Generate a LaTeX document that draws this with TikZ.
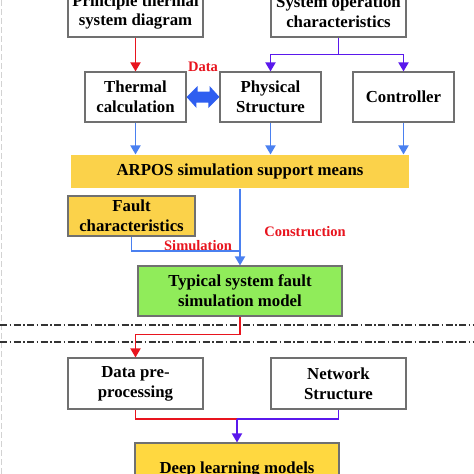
\documentclass[tikz,border=0pt]{standalone}
\usepackage{fontspec}
\setmainfont{Liberation Serif}
\usetikzlibrary{arrows.meta}
\definecolor{lred}{HTML}{E8141E}
\definecolor{lblue}{HTML}{4A80F0}
\definecolor{lpurple}{HTML}{5A18EC}
\definecolor{dblue}{HTML}{2E5EF0}
\definecolor{gold}{HTML}{FBD24A}
\definecolor{gold2}{HTML}{FFD840}
\definecolor{lgreen}{HTML}{90EC5A}
\definecolor{bgray}{HTML}{707070}
\tikzset{
  box/.style={draw=bgray, line width=1.1pt, fill=white, align=center, inner sep=0pt,
    font=\bfseries\fontsize{16.8}{19.8}\selectfont},
  lbl/.style={text=lred, font=\bfseries\fontsize{14.5}{16}\selectfont, inner sep=0pt},
  conn/.style={line width=1.8pt},
  tip/.style={-{Triangle[length=9pt,width=10pt]}},
  sep/.style={draw=black!80, line width=1.2pt, dash pattern=on 7pt off 2.5pt on 1.5pt off 2.5pt},
}
\begin{document}
\begin{tikzpicture}[x=1pt,y=-1pt]
\useasboundingbox[fill=white] (0,0) rectangle (474,474);
% faint frame edge
\draw[gray!35, line width=1.5pt, dash pattern=on 6pt off 3pt] (1.5,0) -- (1.5,474);
% nodes
\node[box, minimum width=135pt, minimum height=50pt] (principle) at (135.5,12) {Principle thermal\\system diagram};
\node[box, minimum width=135pt, minimum height=50pt] (sysop) at (338.5,12) {System operation\\characteristics};
\node[box, minimum width=101pt, minimum height=50pt] (thermal) at (135.5,97) {Thermal\\calculation};
\node[box, minimum width=101pt, minimum height=50pt] (physical) at (270.5,97) {Physical\\Structure};
\node[box, minimum width=101pt, minimum height=50pt] (controller) at (403.5,97) {Controller};
\node[box, draw=none, fill=gold, minimum width=338pt, minimum height=33pt] (arpos) at (240,171.5) {ARPOS simulation support means};
\node[box, fill=gold, minimum width=127pt, minimum height=40pt] (fault) at (131.5,216) {Fault\\characteristics};
\node[box, fill=lgreen, minimum width=204pt, minimum height=50pt] (typical) at (240,291) {Typical system fault\\simulation model};
\node[box, minimum width=135pt, minimum height=51pt] (data) at (135.5,383.5) {Data pre-\\processing};
\node[box, minimum width=135pt, minimum height=51pt] (network) at (338.5,383.5) {Network\\Structure};
\node[box, fill=gold2, minimum width=204pt, minimum height=54pt] (deep) at (237,470) {Deep learning models};
% labels
\node[lbl] (ldata) at (203,67) {Data};
\node[lbl] (lcons) at (305,232) {Construction};
\node[lbl] (lsim) at (198,246) {Simulation};
% separators
\draw[sep] (0,325) -- (474,325);
\draw[sep] (0,342) -- (474,342);
% connectors
\draw[conn, lred, tip] (principle.south) -- (thermal.north);
\draw[conn, lpurple] (sysop.south) -- ++(0,17) coordinate (sj);
\draw[conn, lpurple, tip] (sj) -| (physical.north);
\draw[conn, lpurple, tip] (sj) -| (controller.north);
\draw[conn, lblue, tip] (thermal.south) -- (thermal.south |- arpos.north);
\draw[conn, lblue, tip] (physical.south) -- (physical.south |- arpos.north);
\draw[conn, lblue, tip] (controller.south) -- (controller.south |- arpos.north);
\draw[conn, lblue, tip] (arpos.south) -- (typical.north);
\coordinate (fj) at (240,251);
\draw[conn, lblue] (fault.south) |- (fj);
\draw[conn, lred, tip] (typical.south) -- ++(0,18) -| (data.north);
\coordinate (mj) at (237,419);
\draw[conn, lred] (data.south) |- (mj);
\draw[conn, lpurple] (network.south) |- (mj);
\draw[conn, lpurple, tip] (mj) -- (deep.north);
% data double arrow
\fill[dblue] (thermal.east) -- ++(11,-11) -- ++(0,5.5) -- ++(12,0) -- ++(0,-5.5)
  -- (physical.west) -- ++(-11,11) -- ++(0,-5.5) -- ++(-12,0) -- ++(0,5.5) -- cycle;
\end{tikzpicture}
\end{document}
